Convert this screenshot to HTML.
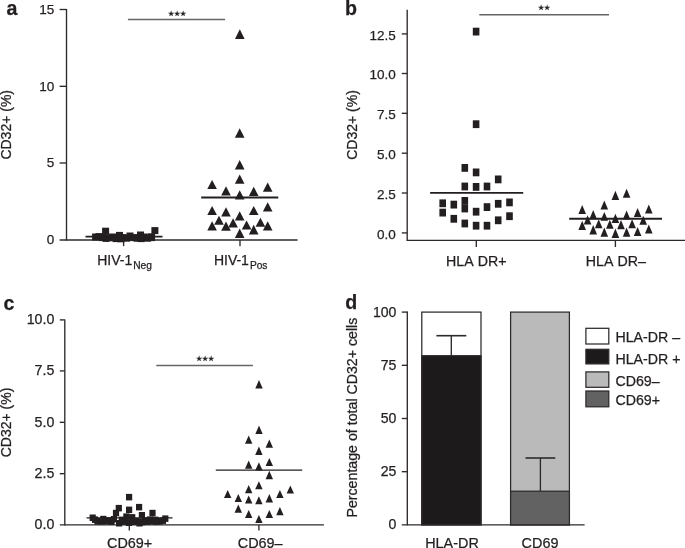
<!DOCTYPE html>
<html lang="en"><head><meta charset="utf-8"><title>CD32+ expression figure</title>
<style>
html,body{margin:0;padding:0;background:#fff;}
svg{display:block;}
svg text{font-family:"Liberation Sans",sans-serif;fill:#231f20;stroke:#231f20;stroke-width:0.25px;}
</style></head><body>
<svg width="685" height="548" viewBox="0 0 685 548">
<rect width="685" height="548" fill="#fff"/>
<text x="6.6" y="14.8" font-size="19.6" font-weight="bold" stroke="none">a</text>
<text x="345" y="14.8" font-size="19.6" font-weight="bold" stroke="none">b</text>
<text x="3.6" y="309.7" font-size="19.6" font-weight="bold" stroke="none">c</text>
<text x="345.2" y="309.2" font-size="19.6" font-weight="bold" stroke="none">d</text>
<line x1="66.5" y1="9" x2="66.5" y2="240.5" stroke="#2e2a2b" stroke-width="1.35"/>
<line x1="59.6" y1="9.5" x2="66.5" y2="9.5" stroke="#2e2a2b" stroke-width="1.35"/>
<text x="54.3" y="13.8" font-size="13.5" text-anchor="end" >15</text>
<line x1="59.6" y1="86.3" x2="66.5" y2="86.3" stroke="#2e2a2b" stroke-width="1.35"/>
<text x="54.3" y="90.6" font-size="13.5" text-anchor="end" >10</text>
<line x1="59.6" y1="163" x2="66.5" y2="163" stroke="#2e2a2b" stroke-width="1.35"/>
<text x="54.3" y="167.3" font-size="13.5" text-anchor="end" >5</text>
<text x="54.3" y="244.3" font-size="13.5" text-anchor="end" >0</text>
<line x1="59.6" y1="240" x2="297.6" y2="240" stroke="#2e2a2b" stroke-width="1.35"/>
<line x1="123.6" y1="240" x2="123.6" y2="246.2" stroke="#2e2a2b" stroke-width="1.35"/>
<line x1="240" y1="240" x2="240" y2="246.2" stroke="#2e2a2b" stroke-width="1.35"/>
<text x="97.2" y="265" font-size="14" text-anchor="start" >HIV-1<tspan font-size="10.2" dx="1" dy="3.6">Neg</tspan></text>
<text x="213.9" y="265" font-size="14" text-anchor="start" >HIV-1<tspan font-size="10.2" dx="1" dy="3.6">Pos</tspan></text>
<text transform="translate(10.8,124.8) rotate(-90)" font-size="14" text-anchor="middle" >CD32+ (%)</text>
<line x1="127.9" y1="19.6" x2="225.1" y2="19.6" stroke="#666" stroke-width="1.5"/>
<text x="176.5" y="15.6" font-size="6.6" text-anchor="middle" font-family="DejaVu Sans, sans-serif">★★★</text>
<rect x="92.1" y="233.5" width="7" height="7" fill="#231f20"/>
<rect x="95.5" y="233.1" width="7" height="7" fill="#231f20"/>
<rect x="99.1" y="234.1" width="7" height="7" fill="#231f20"/>
<rect x="102.1" y="227.7" width="7" height="7" fill="#231f20"/>
<rect x="105.5" y="234.3" width="7" height="7" fill="#231f20"/>
<rect x="109.0" y="233.5" width="7" height="7" fill="#231f20"/>
<rect x="112.5" y="235.1" width="7" height="7" fill="#231f20"/>
<rect x="116.0" y="231.9" width="7" height="7" fill="#231f20"/>
<rect x="119.5" y="234.1" width="7" height="7" fill="#231f20"/>
<rect x="123.0" y="234.7" width="7" height="7" fill="#231f20"/>
<rect x="126.5" y="232.5" width="7" height="7" fill="#231f20"/>
<rect x="130.0" y="234.1" width="7" height="7" fill="#231f20"/>
<rect x="133.5" y="234.7" width="7" height="7" fill="#231f20"/>
<rect x="137.0" y="231.5" width="7" height="7" fill="#231f20"/>
<rect x="140.5" y="233.5" width="7" height="7" fill="#231f20"/>
<rect x="144.0" y="234.7" width="7" height="7" fill="#231f20"/>
<rect x="147.5" y="233.3" width="7" height="7" fill="#231f20"/>
<rect x="151.4" y="227.1" width="7" height="7" fill="#231f20"/>
<rect x="148.1" y="234.1" width="7" height="7" fill="#231f20"/>
<rect x="102.5" y="234.9" width="7" height="7" fill="#231f20"/>
<rect x="117.5" y="235.3" width="7" height="7" fill="#231f20"/>
<rect x="137.5" y="235.1" width="7" height="7" fill="#231f20"/>
<line x1="85.5" y1="236.7" x2="162.5" y2="236.7" stroke="#231f20" stroke-width="1.7"/>
<polygon points="239.8,29.2 235.0,38.9 244.6,38.9" fill="#231f20"/>
<polygon points="239.7,128.3 234.9,137.7 244.5,137.7" fill="#231f20"/>
<polygon points="239.7,160.1 234.9,169.5 244.5,169.5" fill="#231f20"/>
<polygon points="239.7,174.6 234.9,183.8 244.5,183.8" fill="#231f20"/>
<polygon points="212.1,180.1 207.3,189.0 216.9,189.0" fill="#231f20"/>
<polygon points="267.7,182.5 262.9,191.7 272.5,191.7" fill="#231f20"/>
<polygon points="226.0,186.3 221.2,195.6 230.8,195.6" fill="#231f20"/>
<polygon points="253.7,186.7 248.9,195.9 258.5,195.9" fill="#231f20"/>
<polygon points="239.7,190.2 234.9,199.6 244.5,199.6" fill="#231f20"/>
<polygon points="267.7,202.2 262.9,211.4 272.5,211.4" fill="#231f20"/>
<polygon points="212.1,206.0 207.3,215.0 216.9,215.0" fill="#231f20"/>
<polygon points="226.0,207.3 221.2,216.4 230.8,216.4" fill="#231f20"/>
<polygon points="253.7,206.0 248.9,215.0 258.5,215.0" fill="#231f20"/>
<polygon points="239.7,211.2 234.9,220.6 244.5,220.6" fill="#231f20"/>
<polygon points="219.0,215.8 214.2,224.8 223.8,224.8" fill="#231f20"/>
<polygon points="233.1,218.2 228.3,227.5 237.9,227.5" fill="#231f20"/>
<polygon points="260.4,217.8 255.6,226.8 265.2,226.8" fill="#231f20"/>
<polygon points="212.1,221.2 207.3,230.4 216.9,230.4" fill="#231f20"/>
<polygon points="226.0,221.5 221.2,230.7 230.8,230.7" fill="#231f20"/>
<polygon points="246.6,220.6 241.8,229.5 251.4,229.5" fill="#231f20"/>
<polygon points="267.7,221.2 262.9,230.4 272.5,230.4" fill="#231f20"/>
<polygon points="253.7,224.8 248.9,234.4 258.5,234.4" fill="#231f20"/>
<polygon points="239.7,228.5 234.9,237.9 244.5,237.9" fill="#231f20"/>
<line x1="201.2" y1="197.6" x2="278.3" y2="197.6" stroke="#231f20" stroke-width="2.0"/>
<line x1="407.2" y1="9.8" x2="407.2" y2="240.8" stroke="#2e2a2b" stroke-width="1.35"/>
<line x1="401.8" y1="33.9" x2="407.2" y2="33.9" stroke="#2e2a2b" stroke-width="1.35"/>
<text x="395.8" y="39.6" font-size="13.5" text-anchor="end" >12.5</text>
<line x1="401.8" y1="73.5" x2="407.2" y2="73.5" stroke="#2e2a2b" stroke-width="1.35"/>
<text x="395.8" y="79.2" font-size="13.5" text-anchor="end" >10.0</text>
<line x1="401.8" y1="113.3" x2="407.2" y2="113.3" stroke="#2e2a2b" stroke-width="1.35"/>
<text x="395.8" y="119.0" font-size="13.5" text-anchor="end" >7.5</text>
<line x1="401.8" y1="153.2" x2="407.2" y2="153.2" stroke="#2e2a2b" stroke-width="1.35"/>
<text x="395.8" y="158.89999999999998" font-size="13.5" text-anchor="end" >5.0</text>
<line x1="401.8" y1="193" x2="407.2" y2="193" stroke="#2e2a2b" stroke-width="1.35"/>
<text x="395.8" y="198.7" font-size="13.5" text-anchor="end" >2.5</text>
<line x1="401.8" y1="232.9" x2="407.2" y2="232.9" stroke="#2e2a2b" stroke-width="1.35"/>
<text x="395.8" y="238.6" font-size="13.5" text-anchor="end" >0.0</text>
<line x1="406.7" y1="240.3" x2="685" y2="240.3" stroke="#2e2a2b" stroke-width="1.35"/>
<line x1="476.3" y1="240.3" x2="476.3" y2="247" stroke="#2e2a2b" stroke-width="1.35"/>
<line x1="615.4" y1="240.3" x2="615.4" y2="247" stroke="#2e2a2b" stroke-width="1.35"/>
<text x="446" y="266.2" font-size="14.2" text-anchor="start" word-spacing="1">HLA DR+</text>
<text x="585.8" y="266.2" font-size="14.2" text-anchor="start" word-spacing="1">HLA DR–</text>
<text transform="translate(357.3,125.0) rotate(-90)" font-size="14" text-anchor="middle" >CD32+ (%)</text>
<line x1="479.3" y1="14.8" x2="609" y2="14.8" stroke="#666" stroke-width="1.5"/>
<text x="544.3" y="10.4" font-size="6.6" text-anchor="middle" font-family="DejaVu Sans, sans-serif">★★</text>
<rect x="472.8" y="27.7" width="6.6" height="7.8" fill="#231f20"/>
<rect x="472.8" y="120.3" width="6.6" height="7.8" fill="#231f20"/>
<rect x="461.5" y="164.0" width="6.6" height="7.8" fill="#231f20"/>
<rect x="472.8" y="168.5" width="6.6" height="7.8" fill="#231f20"/>
<rect x="494.9" y="175.5" width="6.6" height="7.8" fill="#231f20"/>
<rect x="461.5" y="182.6" width="6.6" height="7.8" fill="#231f20"/>
<rect x="472.8" y="183.0" width="6.6" height="7.8" fill="#231f20"/>
<rect x="483.7" y="182.6" width="6.6" height="7.8" fill="#231f20"/>
<rect x="439.4" y="199.4" width="6.6" height="7.8" fill="#231f20"/>
<rect x="439.4" y="208.7" width="6.6" height="7.8" fill="#231f20"/>
<rect x="450.5" y="200.7" width="6.6" height="7.8" fill="#231f20"/>
<rect x="450.5" y="214.9" width="6.6" height="7.8" fill="#231f20"/>
<rect x="461.5" y="197.0" width="6.6" height="7.8" fill="#231f20"/>
<rect x="461.5" y="204.6" width="6.6" height="7.8" fill="#231f20"/>
<rect x="461.5" y="219.6" width="6.6" height="7.8" fill="#231f20"/>
<rect x="472.8" y="207.8" width="6.6" height="7.8" fill="#231f20"/>
<rect x="472.8" y="221.8" width="6.6" height="7.8" fill="#231f20"/>
<rect x="483.7" y="203.2" width="6.6" height="7.8" fill="#231f20"/>
<rect x="483.7" y="221.8" width="6.6" height="7.8" fill="#231f20"/>
<rect x="494.9" y="199.9" width="6.6" height="7.8" fill="#231f20"/>
<rect x="494.9" y="216.4" width="6.6" height="7.8" fill="#231f20"/>
<rect x="506.2" y="198.5" width="6.6" height="7.8" fill="#231f20"/>
<rect x="506.2" y="212.3" width="6.6" height="7.8" fill="#231f20"/>
<line x1="430.1" y1="192.9" x2="523.2" y2="192.9" stroke="#231f20" stroke-width="1.9"/>
<polygon points="615.4,190.8 611.6,199.9 619.2,199.9" fill="#231f20"/>
<polygon points="626.6,188.8 622.8,197.8 630.4,197.8" fill="#231f20"/>
<polygon points="604.3,200.4 600.5,209.5 608.1,209.5" fill="#231f20"/>
<polygon points="582.2,204.9 578.4,214.0 586.0,214.0" fill="#231f20"/>
<polygon points="648.8,204.4 645.0,213.5 652.6,213.5" fill="#231f20"/>
<polygon points="593.2,210.0 589.4,219.2 597.0,219.2" fill="#231f20"/>
<polygon points="637.6,207.9 633.8,217.1 641.4,217.1" fill="#231f20"/>
<polygon points="604.3,212.0 600.5,220.8 608.1,220.8" fill="#231f20"/>
<polygon points="626.6,210.4 622.8,219.5 630.4,219.5" fill="#231f20"/>
<polygon points="615.4,213.7 611.6,222.9 619.2,222.9" fill="#231f20"/>
<polygon points="587.6,215.3 583.8,224.5 591.4,224.5" fill="#231f20"/>
<polygon points="643.2,215.7 639.4,224.8 647.0,224.8" fill="#231f20"/>
<polygon points="582.2,220.8 578.4,229.9 586.0,229.9" fill="#231f20"/>
<polygon points="598.7,219.2 594.9,228.3 602.5,228.3" fill="#231f20"/>
<polygon points="609.8,219.7 606.0,228.8 613.6,228.8" fill="#231f20"/>
<polygon points="621.0,220.1 617.2,229.3 624.8,229.3" fill="#231f20"/>
<polygon points="632.1,219.2 628.3,228.3 635.9,228.3" fill="#231f20"/>
<polygon points="593.2,225.0 589.4,234.4 597.0,234.4" fill="#231f20"/>
<polygon points="648.8,224.5 645.0,233.6 652.6,233.6" fill="#231f20"/>
<polygon points="604.3,227.4 600.5,236.8 608.1,236.8" fill="#231f20"/>
<polygon points="615.4,228.5 611.6,238.0 619.2,238.0" fill="#231f20"/>
<polygon points="626.6,227.4 622.8,236.8 630.4,236.8" fill="#231f20"/>
<polygon points="637.6,226.9 633.8,236.0 641.4,236.0" fill="#231f20"/>
<line x1="569.2" y1="218.7" x2="662" y2="218.7" stroke="#231f20" stroke-width="1.9"/>
<line x1="64.8" y1="319.4" x2="64.8" y2="525.4" stroke="#2e2a2b" stroke-width="1.35"/>
<line x1="59.8" y1="319.9" x2="64.8" y2="319.9" stroke="#2e2a2b" stroke-width="1.35"/>
<text x="54.3" y="324.29999999999995" font-size="14.2" text-anchor="end" >10.0</text>
<line x1="59.8" y1="370.9" x2="64.8" y2="370.9" stroke="#2e2a2b" stroke-width="1.35"/>
<text x="54.3" y="375.29999999999995" font-size="14.2" text-anchor="end" >7.5</text>
<line x1="59.8" y1="422.3" x2="64.8" y2="422.3" stroke="#2e2a2b" stroke-width="1.35"/>
<text x="54.3" y="426.7" font-size="14.2" text-anchor="end" >5.0</text>
<line x1="59.8" y1="473.7" x2="64.8" y2="473.7" stroke="#2e2a2b" stroke-width="1.35"/>
<text x="54.3" y="478.09999999999997" font-size="14.2" text-anchor="end" >2.5</text>
<text x="54.3" y="529.1999999999999" font-size="14.2" text-anchor="end" >0.0</text>
<line x1="59.8" y1="524.9" x2="323.9" y2="524.9" stroke="#2e2a2b" stroke-width="1.35"/>
<line x1="129.3" y1="524.9" x2="129.3" y2="530.6" stroke="#2e2a2b" stroke-width="1.35"/>
<line x1="258.9" y1="524.9" x2="258.9" y2="530.6" stroke="#2e2a2b" stroke-width="1.35"/>
<text x="129.6" y="547.6" font-size="14.4" text-anchor="middle" >CD69+</text>
<text x="260.2" y="547.6" font-size="14.4" text-anchor="middle" >CD69–</text>
<text transform="translate(10.8,422.5) rotate(-90)" font-size="14" text-anchor="middle" >CD32+ (%)</text>
<line x1="156.3" y1="365.5" x2="252.9" y2="365.5" stroke="#666" stroke-width="1.5"/>
<text x="204.5" y="361.0" font-size="6.6" text-anchor="middle" font-family="DejaVu Sans, sans-serif">★★★</text>
<rect x="126.0" y="493.9" width="6.2" height="6.5" fill="#231f20"/>
<rect x="115.7" y="504.9" width="6.2" height="6.5" fill="#231f20"/>
<rect x="136.0" y="503.9" width="6.2" height="6.5" fill="#231f20"/>
<rect x="126.0" y="506.6" width="6.2" height="6.5" fill="#231f20"/>
<rect x="112.9" y="509.8" width="6.2" height="6.5" fill="#231f20"/>
<rect x="149.4" y="509.8" width="6.2" height="6.5" fill="#231f20"/>
<rect x="138.8" y="512.0" width="6.2" height="6.5" fill="#231f20"/>
<rect x="89.6" y="514.5" width="6.2" height="6.5" fill="#231f20"/>
<rect x="162.2" y="515.4" width="6.2" height="6.5" fill="#231f20"/>
<rect x="123.3" y="513.4" width="6.2" height="6.5" fill="#231f20"/>
<rect x="129.1" y="514.1" width="6.2" height="6.5" fill="#231f20"/>
<rect x="100.2" y="515.8" width="6.2" height="6.5" fill="#231f20"/>
<rect x="94.4" y="518.0" width="6.2" height="6.5" fill="#231f20"/>
<rect x="105.5" y="517.2" width="6.2" height="6.5" fill="#231f20"/>
<rect x="110.8" y="516.0" width="6.2" height="6.5" fill="#231f20"/>
<rect x="116.0" y="520.0" width="6.2" height="6.5" fill="#231f20"/>
<rect x="118.7" y="516.6" width="6.2" height="6.5" fill="#231f20"/>
<rect x="125.9" y="519.5" width="6.2" height="6.5" fill="#231f20"/>
<rect x="133.1" y="518.0" width="6.2" height="6.5" fill="#231f20"/>
<rect x="136.4" y="520.0" width="6.2" height="6.5" fill="#231f20"/>
<rect x="141.7" y="517.2" width="6.2" height="6.5" fill="#231f20"/>
<rect x="146.9" y="516.4" width="6.2" height="6.5" fill="#231f20"/>
<rect x="152.2" y="516.6" width="6.2" height="6.5" fill="#231f20"/>
<rect x="156.8" y="518.0" width="6.2" height="6.5" fill="#231f20"/>
<rect x="149.5" y="518.0" width="6.2" height="6.5" fill="#231f20"/>
<rect x="98.4" y="518.1" width="6.2" height="6.5" fill="#231f20"/>
<rect x="108.4" y="518.4" width="6.2" height="6.5" fill="#231f20"/>
<rect x="121.4" y="518.4" width="6.2" height="6.5" fill="#231f20"/>
<rect x="129.9" y="518.5" width="6.2" height="6.5" fill="#231f20"/>
<rect x="143.9" y="518.4" width="6.2" height="6.5" fill="#231f20"/>
<rect x="153.4" y="518.4" width="6.2" height="6.5" fill="#231f20"/>
<rect x="159.9" y="517.4" width="6.2" height="6.5" fill="#231f20"/>
<rect x="91.9" y="516.4" width="6.2" height="6.5" fill="#231f20"/>
<rect x="102.9" y="518.0" width="6.2" height="6.5" fill="#231f20"/>
<rect x="138.9" y="518.8" width="6.2" height="6.5" fill="#231f20"/>
<line x1="86.6" y1="517.9" x2="172.5" y2="517.9" stroke="#231f20" stroke-width="1.4"/>
<polygon points="259.0,379.9 255.3,388.5 262.7,388.5" fill="#231f20"/>
<polygon points="259.0,425.6 255.3,433.9 262.7,433.9" fill="#231f20"/>
<polygon points="248.7,435.6 245.0,443.7 252.4,443.7" fill="#231f20"/>
<polygon points="269.3,439.6 265.6,447.8 273.0,447.8" fill="#231f20"/>
<polygon points="258.9,446.5 255.2,455.0 262.6,455.0" fill="#231f20"/>
<polygon points="248.7,460.4 245.0,468.7 252.4,468.7" fill="#231f20"/>
<polygon points="269.3,458.0 265.6,466.1 273.0,466.1" fill="#231f20"/>
<polygon points="258.9,462.2 255.2,470.5 262.6,470.5" fill="#231f20"/>
<polygon points="269.3,470.8 265.6,479.3 273.0,479.3" fill="#231f20"/>
<polygon points="258.9,481.2 255.2,489.3 262.6,489.3" fill="#231f20"/>
<polygon points="248.7,485.0 245.0,493.3 252.4,493.3" fill="#231f20"/>
<polygon points="290.3,485.4 286.6,493.5 294.0,493.5" fill="#231f20"/>
<polygon points="227.7,489.9 224.0,497.9 231.4,497.9" fill="#231f20"/>
<polygon points="279.9,489.9 276.2,498.1 283.6,498.1" fill="#231f20"/>
<polygon points="238.3,493.9 234.6,502.1 242.0,502.1" fill="#231f20"/>
<polygon points="248.7,495.4 245.0,503.5 252.4,503.5" fill="#231f20"/>
<polygon points="258.9,496.3 255.2,504.3 262.6,504.3" fill="#231f20"/>
<polygon points="269.3,493.9 265.6,502.4 273.0,502.4" fill="#231f20"/>
<polygon points="238.3,504.5 234.6,512.7 242.0,512.7" fill="#231f20"/>
<polygon points="279.9,506.9 276.2,515.2 283.6,515.2" fill="#231f20"/>
<polygon points="248.7,510.0 245.0,518.0 252.4,518.0" fill="#231f20"/>
<polygon points="269.3,510.0 265.6,518.0 273.0,518.0" fill="#231f20"/>
<polygon points="258.9,514.9 255.2,523.1 262.6,523.1" fill="#231f20"/>
<line x1="215.8" y1="470.1" x2="302.2" y2="470.1" stroke="#231f20" stroke-width="1.4"/>
<line x1="407.3" y1="311.6" x2="407.3" y2="525.3" stroke="#2e2a2b" stroke-width="1.35"/>
<line x1="401.8" y1="312.1" x2="407.3" y2="312.1" stroke="#2e2a2b" stroke-width="1.35"/>
<text x="396.4" y="316.6" font-size="14.1" text-anchor="end" >100</text>
<line x1="401.8" y1="365.3" x2="407.3" y2="365.3" stroke="#2e2a2b" stroke-width="1.35"/>
<text x="396.4" y="369.8" font-size="14.1" text-anchor="end" >75</text>
<line x1="401.8" y1="418.5" x2="407.3" y2="418.5" stroke="#2e2a2b" stroke-width="1.35"/>
<text x="396.4" y="423.0" font-size="14.1" text-anchor="end" >50</text>
<line x1="401.8" y1="471.7" x2="407.3" y2="471.7" stroke="#2e2a2b" stroke-width="1.35"/>
<text x="396.4" y="476.2" font-size="14.1" text-anchor="end" >25</text>
<text x="396.4" y="529.3" font-size="14.1" text-anchor="end" >0</text>
<line x1="401.8" y1="524.8" x2="584.6" y2="524.8" stroke="#2e2a2b" stroke-width="1.35"/>
<rect x="421.8" y="312.1" width="59.2" height="212.7" fill="#fff" stroke="#2e2a2b" stroke-width="1.25"/>
<rect x="421.8" y="355.7" width="59.2" height="169.1" fill="#1c1a1b" stroke="#2e2a2b" stroke-width="1.25"/>
<rect x="510.6" y="312.1" width="58.8" height="212.7" fill="#bababa" stroke="#2e2a2b" stroke-width="1.25"/>
<rect x="510.6" y="491.2" width="58.8" height="33.6" fill="#626262" stroke="#2e2a2b" stroke-width="1.25"/>
<line x1="451.3" y1="355.7" x2="451.3" y2="335.7" stroke="#2e2a2b" stroke-width="1.35"/>
<line x1="436.4" y1="335.7" x2="466.3" y2="335.7" stroke="#2e2a2b" stroke-width="1.6"/>
<line x1="540.4" y1="491.2" x2="540.4" y2="458" stroke="#2e2a2b" stroke-width="1.35"/>
<line x1="525.5" y1="458" x2="555.3" y2="458" stroke="#2e2a2b" stroke-width="1.6"/>
<text x="452" y="548" font-size="14.4" text-anchor="middle" >HLA-DR</text>
<text x="540" y="548" font-size="14.4" text-anchor="middle" >CD69</text>
<text transform="translate(356.6,417.6) rotate(-90)" font-size="14.2" text-anchor="middle" >Percentage of total CD32+ cells</text>
<rect x="585.9" y="328.3" width="22.9" height="15.7" fill="#fff" stroke="#2e2a2b" stroke-width="1.25"/>
<rect x="585.9" y="349.3" width="22.9" height="14.6" fill="#1c1a1b" stroke="#2e2a2b" stroke-width="1.25"/>
<rect x="585.9" y="371.9" width="22.9" height="15.4" fill="#bababa" stroke="#2e2a2b" stroke-width="1.25"/>
<rect x="585.9" y="391" width="22.9" height="15.8" fill="#626262" stroke="#2e2a2b" stroke-width="1.25"/>
<text x="615.4" y="342" font-size="14.2" text-anchor="start" >HLA-DR –</text>
<text x="615.4" y="363.7" font-size="14.2" text-anchor="start" >HLA-DR +</text>
<text x="615.4" y="385.8" font-size="14.2" text-anchor="start" >CD69–</text>
<text x="615.4" y="404.9" font-size="14.2" text-anchor="start" >CD69+</text>
</svg>
</body></html>
